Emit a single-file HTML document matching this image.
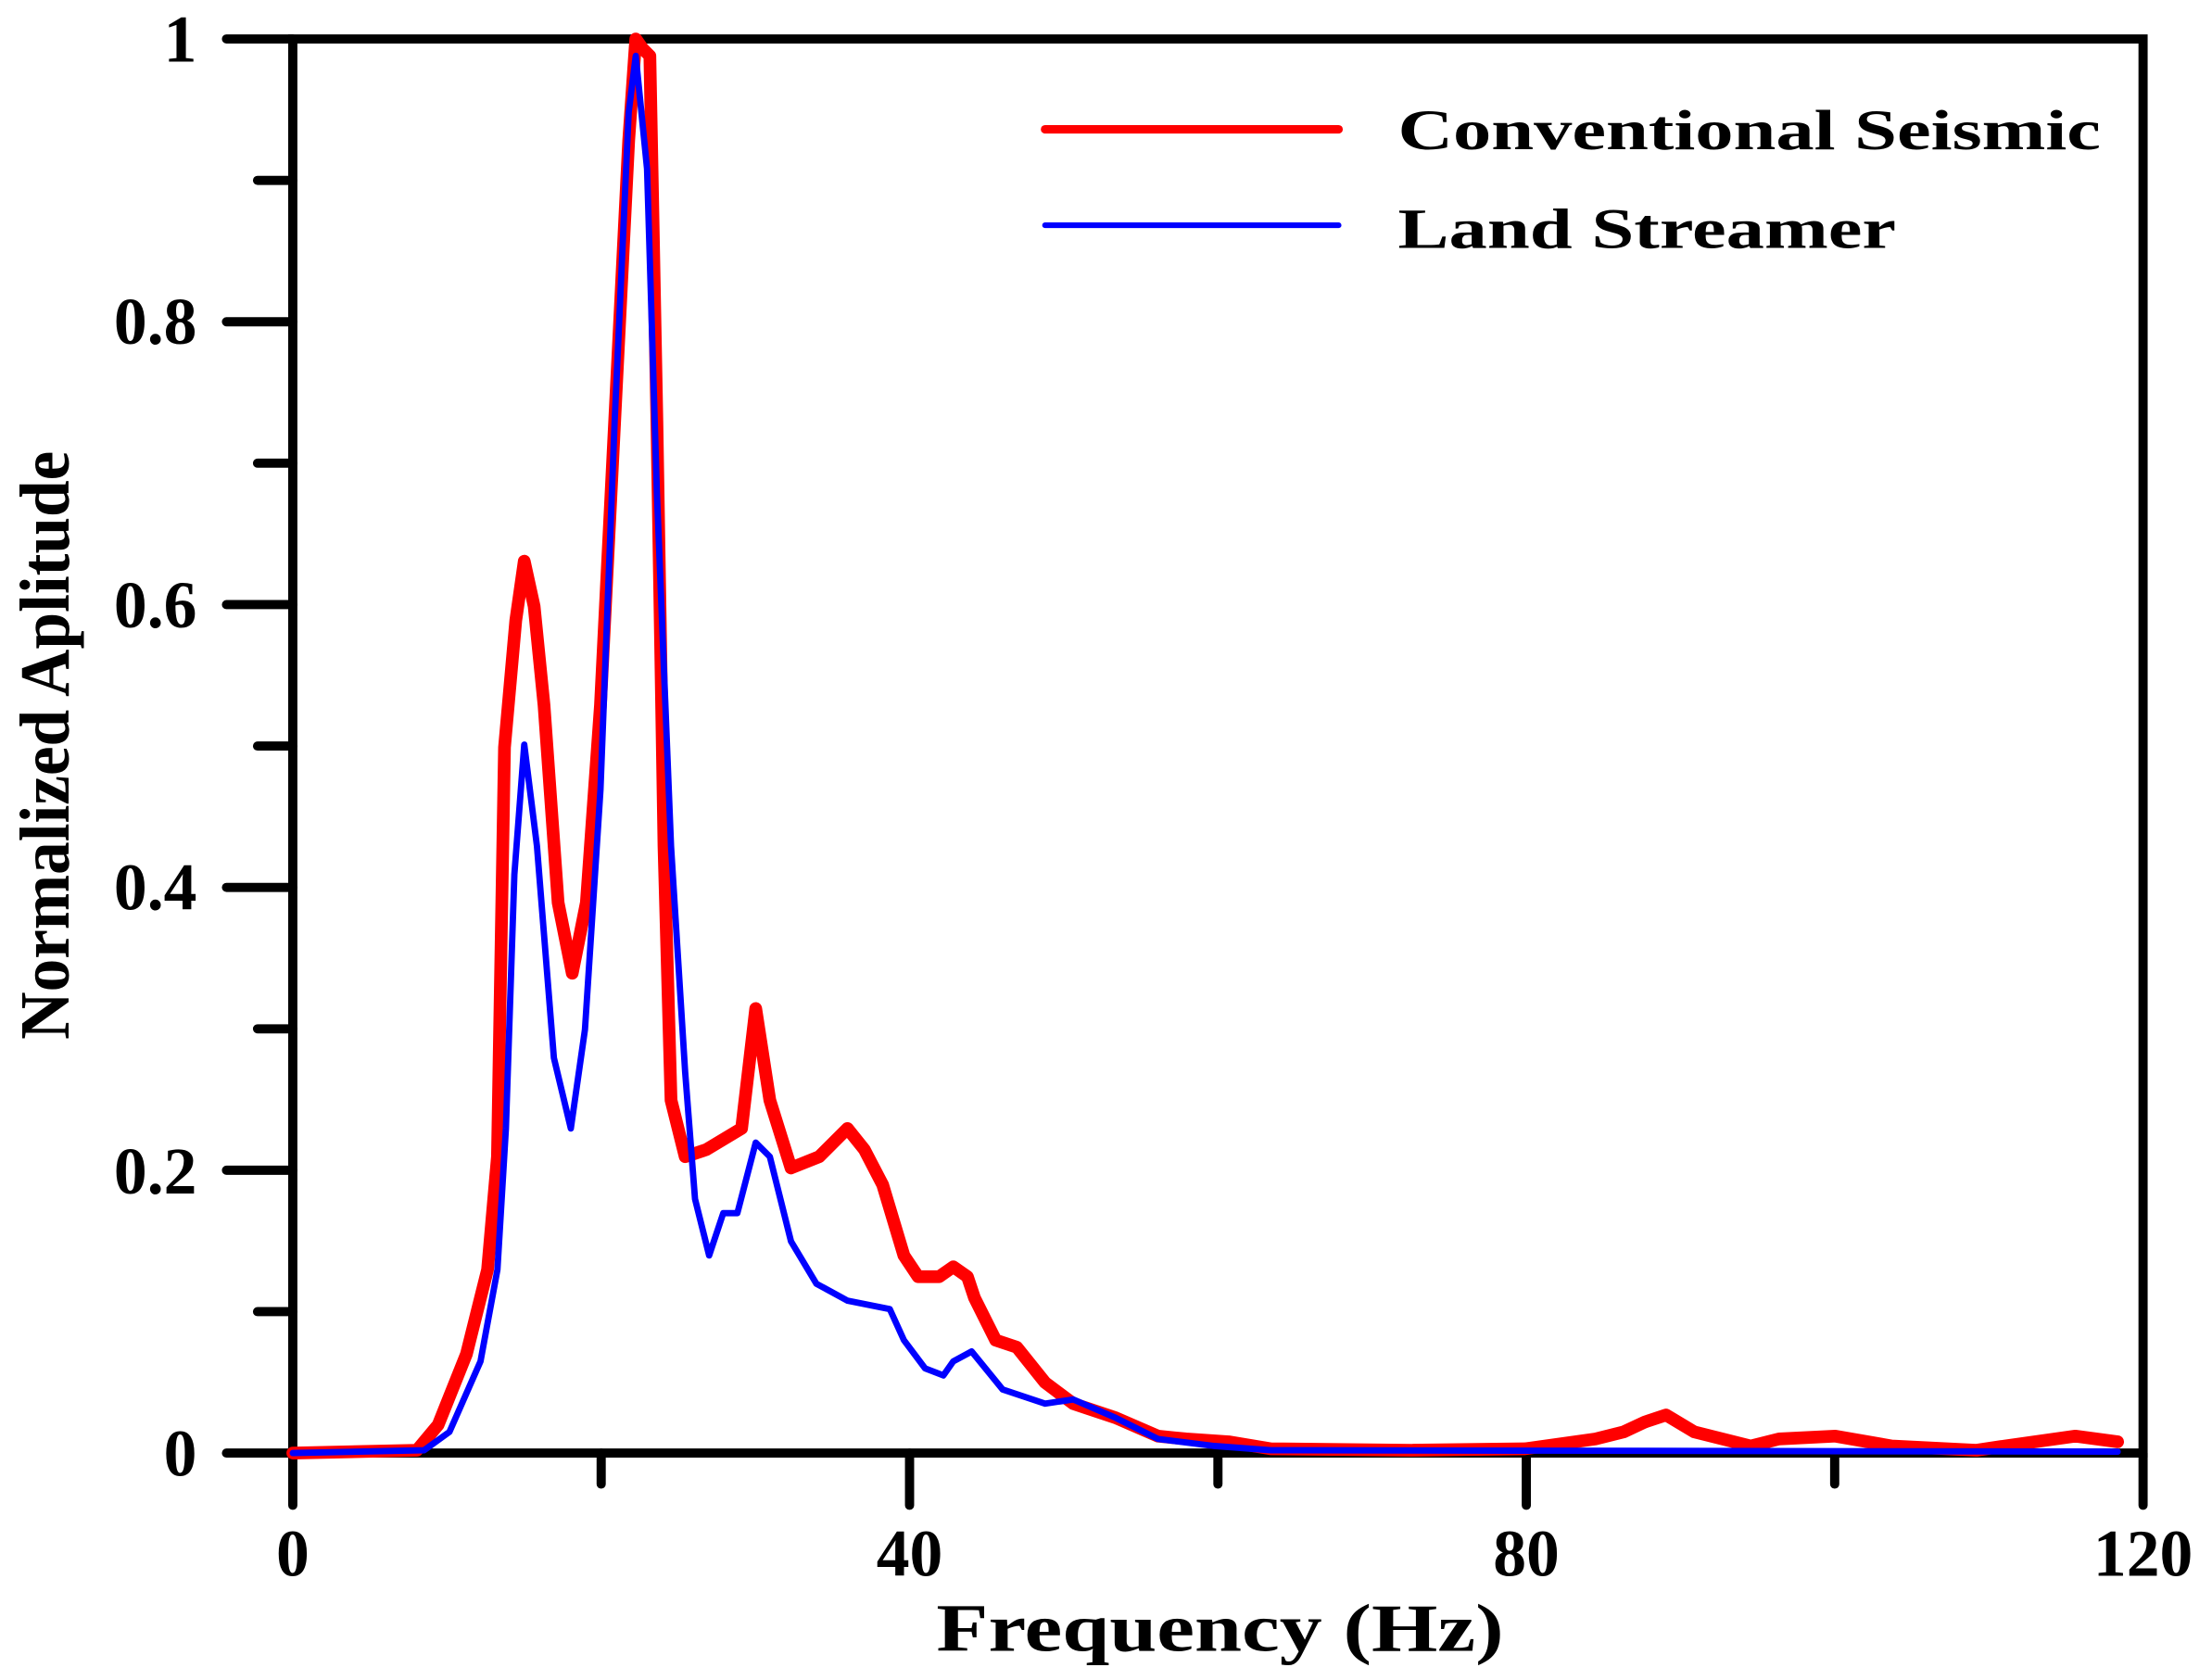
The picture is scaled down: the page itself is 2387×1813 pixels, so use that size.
<!DOCTYPE html>
<html><head><meta charset="utf-8"><style>html,body{margin:0;padding:0;background:#fff}svg{display:block}</style></head>
<body>
<svg width="2387" height="1813" viewBox="0 0 2387 1813" xmlns="http://www.w3.org/2000/svg">
<rect width="2387" height="1813" fill="#fff"/>
<g transform="translate(0.7,-0.6) scale(1.523)" font-family="Liberation Serif, serif" font-weight="bold" fill="#000">
<g stroke="#000" stroke-width="6.5" stroke-linecap="round" fill="none">
<path d="M207,28 H1518 V1030 H207 Z" stroke-linecap="square"/>
<path d="M160,28 H207 M160,228.4 H207 M160,428.8 H207 M160,629.2 H207 M160,829.6 H207 M160,1030 H207"/>
<path d="M182,128.2 H207 M182,328.6 H207 M182,529 H207 M182,729.4 H207 M182,929.8 H207"/>
<path d="M207,1030 V1067 M644,1030 V1067 M1081,1030 V1067 M1518,1030 V1067"/>
<path d="M425.5,1030 V1052 M862.5,1030 V1052 M1299.5,1030 V1052"/>
</g>
<g font-size="47" text-anchor="end">
<text x="139" y="44">1</text>
<text x="139" y="244">0.8</text>
<text x="139" y="445">0.6</text>
<text x="139" y="645">0.4</text>
<text x="139" y="846">0.2</text>
<text x="139" y="1046">0</text>
</g>
<g font-size="47" text-anchor="middle">
<text x="207" y="1117">0</text>
<text x="644" y="1117">40</text>
<text x="1081" y="1117">80</text>
<text x="1518" y="1117">120</text>
</g>
<text x="663" y="1170" font-size="48" textLength="402" lengthAdjust="spacingAndGlyphs">Frequency (Hz)</text>
<text transform="translate(48,737) rotate(-90)" font-size="50" textLength="417" lengthAdjust="spacingAndGlyphs">Normalized Aplitude</text>
<text x="990" y="106" font-size="40" textLength="498" lengthAdjust="spacingAndGlyphs">Conventional Seismic</text>
<text x="990" y="176" font-size="40" textLength="353" lengthAdjust="spacingAndGlyphs">Land Streamer</text>
<path d="M740,92 H948" stroke="#f00" stroke-width="6" stroke-linecap="round"/>
<path d="M740,160 H948" stroke="#00f" stroke-width="4" stroke-linecap="round"/>
<path fill="none" stroke="#f00" stroke-width="9" stroke-linejoin="round" stroke-linecap="round" d="M207,1030 L295,1028 L310,1010 L330,960 L345,900 L352,820 L357,530 L365,440 L371,398 L378,430 L385,500 L395,640 L405,690 L415,640 L425,500 L435,300 L445,100 L450,28 L455,35 L460,40 L465,300 L470,600 L475,780 L485,820 L500,815 L525,800 L535,715 L545,780 L560,828 L580,820 L600,800 L612,815 L625,840 L640,890 L650,905 L665,905 L675,898 L685,905 L690,920 L705,950 L720,955 L740,980 L760,995 L790,1005 L820,1018 L840,1020 L870,1022 L900,1027 L1000,1028 L1080,1027 L1130,1020 L1150,1015 L1165,1008 L1180,1003 L1200,1015 L1240,1025 L1260,1020 L1300,1018 L1340,1025 L1400,1028 L1420,1025 L1470,1018 L1500,1022"/>
<path fill="none" stroke="#00f" stroke-width="4.5" stroke-linejoin="round" stroke-linecap="round" d="M207,1030 L300,1028 L318,1015 L340,965 L352,900 L358,800 L364,620 L371,528 L380,600 L392,750 L404,800 L414,730 L425,560 L435,300 L445,80 L450,40 L458,120 L465,350 L475,600 L485,760 L492,850 L502,890 L512,860 L522,860 L535,810 L545,820 L560,880 L578,910 L600,922 L630,928 L640,950 L655,970 L668,975 L675,965 L688,958 L710,985 L740,995 L760,992 L790,1005 L820,1020 L860,1025 L900,1028 L1500,1029"/>
</g>
</svg>
</body></html>
